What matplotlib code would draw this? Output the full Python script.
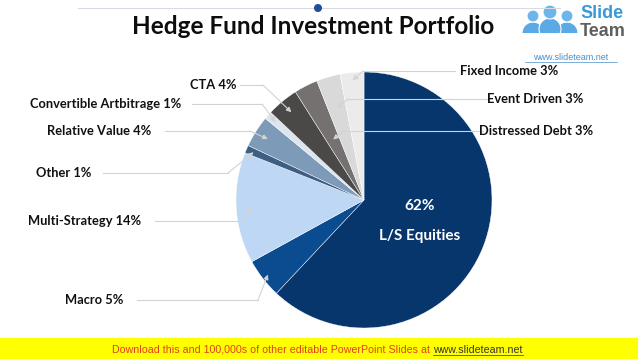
import numpy as np
import matplotlib
matplotlib.use("Agg")
import matplotlib.pyplot as plt
from matplotlib.patches import Rectangle, Circle, Ellipse

# ── Data ─────────────────────────────────────────────────────────────────────
labels = ["L/S Equities", "Macro", "Multi-Strategy", "Other", "Relative Value",
          "Convertible Artbitrage", "CTA", "Distressed Debt", "Event Driven",
          "Fixed Income"]
shares = [62, 5, 14, 1, 4, 1, 4, 3, 3, 3]

title = "Hedge Fund Investment Portfolio"

# ── Style ────────────────────────────────────────────────────────────────────
colors = ["#06366C", "#0B4B8F", "#BDD7F4", "#3D5F84", "#7E9AB9", "#DCE5EF",
          "#4B4848", "#767171", "#D9D9D9", "#EBEBEB"]
FONT = "Lato"
W, H = 638, 359
CX, CY, R = 364, 200, 128          # pie centre / radius in pixels

# callout layout: text x, text y, ha, line end x (near text), elbow x, tip radius
callouts = {
    "Macro":                  (65, 300, "left", 137, 258, 0.95),
    "Multi-Strategy":         (28, 221, "left", 155, None, 0.88),
    "Other":                  (36, 173, "left", 103, 228, 0.94),
    "Relative Value":         (47, 131, "left", 165, 250, 0.89),
    "Convertible Artbitrage": (30, 104, "left", 192, 262, 0.92),
    "CTA":                    (190, 85, "left", 240, 263, 0.89),
    "Distressed Debt":        (593, 131, "right", 483, 343, 0.53),
    "Event Driven":           (583, 99, "right", 490, 348, 0.75),
    "Fixed Income":           (558, 71, "right", 455, 363, 0.94),
}

fig = plt.figure(figsize=(W / 100, H / 100), dpi=100)
fig.patch.set_facecolor("white")

# ── Pie ──────────────────────────────────────────────────────────────────────
ax = fig.add_axes([(CX - R) / W, (H - CY - R) / H, 2 * R / W, 2 * R / H])
ax.pie(shares, colors=colors, startangle=90, counterclock=False,
       wedgeprops=dict(edgecolor="white", linewidth=0.3))
ax.set_xlim(-1, 1)
ax.set_ylim(-1, 1)
ax.axis("off")

# ── Overlay in pixel coords ──────────────────────────────────────────────────
ov = fig.add_axes([0, 0, 1, 1])
ov.set_xlim(0, W)
ov.set_ylim(H, 0)
ov.axis("off")
ov.set_zorder(3)

cum = np.cumsum([0] + shares[:-1])
mid = [(c + s / 2) * 3.6 for c, s in zip(cum, shares)]

LINE = "#D3D3D3"
for name, share, theta in zip(labels, shares, mid):
    if name not in callouts:
        continue
    tx, ty, ha, lx, ex, rf = callouts[name]
    th = np.radians(theta)
    tip = (CX + R * rf * np.sin(th), CY - R * rf * np.cos(th))
    ov.text(tx, ty, f"{name} {share}%", ha=ha, va="center", fontsize=9.3,
            fontweight="bold", family=FONT, color="#111111")
    elbow = (ex, ty) if ex is not None else (tip[0] - 8, ty)
    ov.plot([lx, elbow[0]], [ty, ty], color=LINE, lw=0.8)
    ov.annotate("", xy=tip, xytext=elbow,
                arrowprops=dict(arrowstyle="-|>", color=LINE, lw=0.8,
                                mutation_scale=7, shrinkA=0, shrinkB=0))

# centre label for the big slice
th = np.radians(mid[0])
px, py = CX + R * 0.45 * np.sin(th), CY - R * 0.45 * np.cos(th)
ov.text(px + 2, py - 15, f"{shares[0]}%", ha="center", va="center",
        fontsize=11, fontweight="bold", family=FONT, color="white")
ov.text(px + 2, py + 15, labels[0], ha="center", va="center",
        fontsize=11, fontweight="bold", family=FONT, color="white")

# ── Title & top rule ─────────────────────────────────────────────────────────
ov.plot([78, 560], [8, 8], color="#D5DCE4", lw=0.8)
ov.add_patch(Circle((318, 8), 3.3, color="#1F4E9A", zorder=4))
ov.text(313, 26, title, ha="center", va="center", fontsize=17.5,
        fontweight="bold", family=FONT, color="#0D0D0D")

# ── Logo ─────────────────────────────────────────────────────────────────────
clip = Rectangle((515, 0), 70, 33, transform=ov.transData)
for hx, hy, hr in [(533, 16, 6), (567, 16, 6), (550, 12, 7)]:
    body = Ellipse((hx, hy + 17), 22, 22, color="#5BAAE6", ec="white", lw=0.8)
    ov.add_patch(body)
    body.set_clip_path(clip)
    ov.add_patch(Circle((hx, hy), hr, color="#6DB6EC", ec="white", lw=0.8))
ov.text(580, 14, "Slide", ha="left", va="center", fontsize=13,
        fontweight="bold", family="Liberation Sans", color="#3A9AD9")
ov.text(580, 31, "Team", ha="left", va="center", fontsize=13,
        fontweight="bold", family="Liberation Sans", color="#5F5F5F")
ov.text(571, 58, "www.slideteam.net", ha="center", va="center", fontsize=6.5,
        family="Liberation Sans", color="#4A8FC9")
ov.plot([525, 617], [62, 62], color="#4A8FC9", lw=0.5)

# ── Bottom banner ────────────────────────────────────────────────────────────
ov.add_patch(Rectangle((0, 338), W, 21, color="#FFFF00", zorder=1))
t1 = ov.text(112, 350, "Download this and 100,000s of other editable PowerPoint Slides at",
             ha="left", va="center", fontsize=7.7, family="Liberation Sans",
             color="#E2401B", zorder=2)
fig.canvas.draw()
bb = t1.get_window_extent().transformed(ov.transData.inverted())
ux = max(bb.x0, bb.x1) + 3
t2 = ov.text(ux, 350, "www.slideteam.net", ha="left", va="center", fontsize=7.7,
             family="Liberation Sans", color="#333333", zorder=2)
fig.canvas.draw()
bb2 = t2.get_window_extent().transformed(ov.transData.inverted())
ov.plot([ux, max(bb2.x0, bb2.x1)], [355, 355], color="#333333", lw=0.5, zorder=2)

fig.savefig("out.png", dpi=100)
